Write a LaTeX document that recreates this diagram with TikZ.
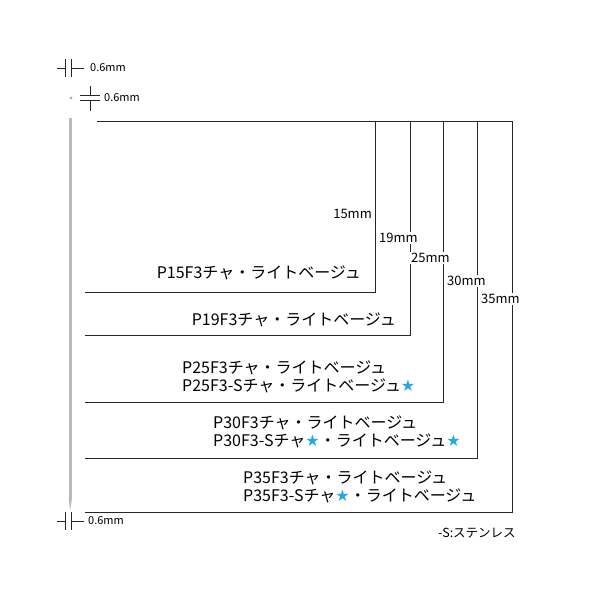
\documentclass[tikz,border=0pt]{standalone}
\usepackage{fontspec}
\setmainfont{Noto Sans CJK JP}
\newfontfamily\djv{DejaVu Sans}
\definecolor{starc}{HTML}{29A8E0}
\newcommand{\st}{{\djv\color{starc}★}}
\begin{document}
\begin{tikzpicture}[x=1pt,y=-1pt,
 ln/.style={draw=black!85,line width=0.8pt},
 lab/.style={font=\fontsize{16}{18.5}\selectfont,inner sep=1pt},
 mm/.style={font=\fontsize{13}{14}\selectfont,inner sep=1pt,fill=white},
 sm/.style={font=\fontsize{11}{12}\selectfont,inner sep=0pt,anchor=west}]
\useasboundingbox (0,0) rectangle (600,600);
\fill[gray!55] (68.5,118) rectangle (72,498);
\fill[gray!55] (68.5,498) -- (72,498) -- (70.2,510) -- cycle;
\coordinate (t0) at (97,121);
\coordinate (t1) at (375,121);\coordinate (t2) at (410,121);\coordinate (t3) at (443,121);
\coordinate (t4) at (477,121);\coordinate (t5) at (512,121);
\coordinate (b1) at (375,292);\coordinate (b2) at (410,335);\coordinate (b3) at (443,402);
\coordinate (b4) at (477,458);\coordinate (b5) at (512,512);
\coordinate (l1) at (85,292);\coordinate (l2) at (85,335);\coordinate (l3) at (85,402);
\coordinate (l4) at (85,458);\coordinate (l5) at (85,512);
\draw[ln] (t0)--(t5);
\foreach \i in {1,...,5}{\draw[ln] (l\i)--(b\i)--(t\i);}
\node[mm,anchor=east] (m15) at (373,214) {15mm};
\node[mm,anchor=west] (m19) at (378,238) {19mm};
\node[mm,anchor=west] (m25) at (410,258) {25mm};
\node[mm,anchor=west] (m30) at (446,281) {30mm};
\node[mm,anchor=west] (m35) at (480,299) {35mm};
\node[lab,anchor=east] (p15) at (362,273) {P15F3チャ・ライトベージュ};
\node[lab,anchor=east] (p19) at (397,320) {P19F3チャ・ライトベージュ};
\node[lab,anchor=west,align=left] (p25) at (181,377) {P25F3チャ・ライトベージュ\\P25F3-Sチャ・ライトベージュ\st};
\node[lab,anchor=west,align=left] (p30) at (212,432) {P30F3チャ・ライトベージュ\\P30F3-Sチャ\st・ライトベージュ\st};
\node[lab,anchor=west,align=left] (p35) at (242,487) {P35F3チャ・ライトベージュ\\P35F3-Sチャ\st・ライトベージュ};
\node[lab,anchor=west,font=\fontsize{12.5}{14}\selectfont] (s) at (437,533) {-S:ステンレス};
\draw[ln,line width=0.6pt] (57,68)--(65,68) (65,59)--(65,77) (71,59)--(71,77) (71,68)--(84,68);
\node[sm] (a1) at (90,68) {0.6mm};
\fill[gray!60] (71,98) circle (1.6);
\draw[ln,line width=0.6pt] (90,86)--(90,95) (80,95)--(100,95) (80,100)--(100,100) (90,100)--(90,111);
\node[sm] (a2) at (104,98) {0.6mm};
\draw[ln,line width=0.6pt] (57,521)--(65,521) (65,512)--(65,530) (71,512)--(71,530) (71,521)--(84,521);
\node[sm] (a3) at (88,521) {0.6mm};
\end{tikzpicture}
\end{document}
